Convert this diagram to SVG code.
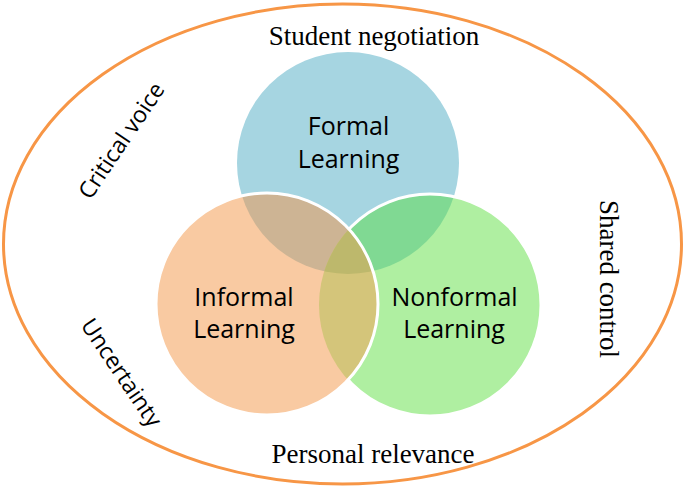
<svg xmlns="http://www.w3.org/2000/svg" width="685" height="488" viewBox="0 0 685 488">
<style>
.sans{font-family:"Open Sans","Noto Sans","DejaVu Sans",sans-serif;font-size:25px;fill:#000;text-anchor:middle}
.side{font-size:23px}
.serif{font-family:"Liberation Serif","Times New Roman",serif;font-size:27px;fill:#000;text-anchor:middle}
.ws{fill:none;stroke:#fff;stroke-width:3}
</style>
<defs>
<clipPath id="cF"><circle cx="348" cy="163" r="111"/></clipPath>
<clipPath id="cN"><circle cx="430" cy="305" r="111"/></clipPath>
</defs>
<rect width="685" height="488" fill="#fff"/>
<g id="outer">
<ellipse cx="342.5" cy="244" rx="339" ry="240" fill="none" stroke="#F79646" stroke-width="3"/>
</g>
<g id="formal">
<circle cx="348" cy="163" r="111" fill="#A6D5E1"/>
</g>
<g id="nonformal">
<circle cx="430" cy="305" r="111" fill="#AFEFA1"/>
<circle cx="430" cy="305" r="111" fill="#80D993" clip-path="url(#cF)"/>
<circle class="ws" cx="430" cy="305" r="111"/>
</g>
<g id="informal">
<circle cx="267" cy="304" r="111" fill="#F9CAA2"/>
<circle cx="267" cy="304" r="111" fill="#CDB494" clip-path="url(#cF)"/>
<circle cx="267" cy="304" r="111" fill="#D4C57A" clip-path="url(#cN)"/>
<g clip-path="url(#cF)"><circle cx="267" cy="304" r="111" fill="#BDB86C" clip-path="url(#cN)"/></g>
<circle class="ws" cx="267" cy="304" r="111"/>
</g>
<g id="labels">
<text class="sans" x="348.5" y="135">Formal</text>
<text class="sans" x="348.5" y="168">Learning</text>
<text class="sans" x="244" y="306">Informal</text>
<text class="sans" x="244" y="338">Learning</text>
<text class="sans" x="454.5" y="306">Nonformal</text>
<text class="sans" x="454" y="338">Learning</text>
<text class="serif" x="374" y="45">Student negotiation</text>
<text class="serif" x="373" y="463">Personal relevance</text>
<text class="serif" transform="translate(600,279) rotate(90)">Shared control</text>
<text class="sans side" transform="translate(128,145) rotate(-56)">Critical voice</text>
<text class="sans side" transform="translate(115,377) rotate(56)">Uncertainty</text>
</g>
</svg>
